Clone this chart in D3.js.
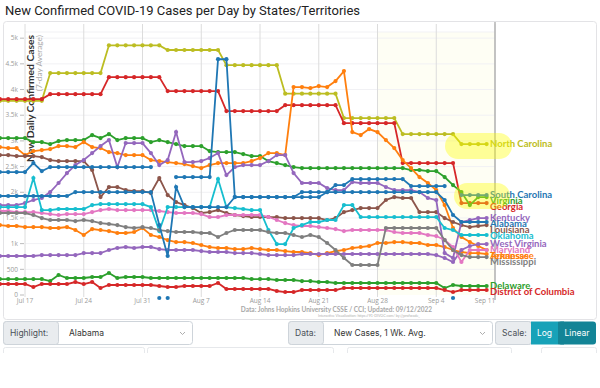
<!DOCTYPE html>
<meta charset="utf-8">
<head>
<style>
body { margin: 0; background: #fff; }
svg { font-family: Roboto, "Open Sans", sans-serif; }
.grid line { stroke: #dcdcdc; }
.hgrid line { stroke: #f1f1f4; }
.tick-y text, .tick-x text { fill: #9a9a9a; font: 6.5px "Open Sans", sans-serif; }
.series path { fill: none; stroke-width: 1.8; }
.label { font: bold 9.5px Lato, sans-serif; }
.ctl text { font: 8.5px Inter, sans-serif; fill: #495057; }
</style>
</head>
<body>
<svg width="600" height="388"></svg>
<script src="https://d3js.org/d3.v7.min.js"></script>
<script>

// one value per day, Jul 14 .. Sep 10 2022 (59 days); null = no report that day
var northCarolina = [3780,3780,3780,3780,3780,3780, 4320,4320,4320,4320,4320,4320,4320, 4860,4860,4860,4860,4860,4860,4860, 4770,4770,4770,4770,4770,4770,4770, 4475,4475,4475,4475,4475,4475,4475, 3920,3920,3920,3920,3920,3920,3920, 3444,3444,3444,3444,3444,3444,3444, 3132,3132,3132,3132,3132,3132,3132, 2938,2938,2938,2938];
var georgia = [3813,3813,3813,3813,3813,3813, 3910,3910,3910,3910,3910,3910,3910, 4241,4241,4241,4241,4241,4241,4241, 3969,3969,3969,3969,3969,3969,3969, 3580,3580,3580,3580,3580,3580,3580, 3696,3696,3696,3696,3696,3696,3696, 3346,3346,3346,3346,3346,3346,3346, 2568,2568,2568,2568,2568,2568,2568, 1790,1790,1790,1790];
var virginia = [3055,3055,3055,3055,2977,2977,2938,2997,3016,3016,3016,3114,3055,3133,3016,3055,3055,3055,2977,3016,2977,2938,2900,2900,2900,2802,2783,2783,2783,2744,2705,2705,2608,2569,2530,2491,2471,2471,2471,2471,2471,2471,2471,2471,2471,2471,2471,2471,2471,2433,2433,2413,2413,2296,2140,2004,1751,1907,1907];
var tennessee = [2880,2861,2861,2724,2802,2822,2841,2900,2900,2880,2977,2880,2861,2783,2763,2724,2724,2724,2627,2608,2588,2569,2549,2510,2471,2530,2569,2569,2569,2569,2608,2666,2763,2763,2724,4048,4048,4028,4067,4048,4164,4359,3172,3114,3230,3172,3016,2861,2627,2471,2296,2180,2043,1751,1304,1129,1031,954,876];
var arkansas = [1362,1343,1343,1323,1323,1323,1304,1304,1323,1265,1168,1284,1265,1245,1207,1207,1226,1304,1168,1129,1070,1031,1031,1012,973,934,915,915,895,895,915,895,876,876,856,837,837,817,778,817,856,876,915,934,954,1012,1012,1031,1031,1012,1012,973,973,934,876,837,817,817,798];
var louisiana = [2724,2724,2705,2705,2705,2685,2627,2608,2608,2608,2608,2433,1907,2102,2102,2043,2024,2024,1985,2277,1946,1810,1751,1693,1596,1615,1654,1596,1557,1537,1518,1518,1518,1518,1498,1498,1498,1498,1498,1460,1498,1615,1654,1693,1693,1693,1849,1907,1888,1888,1615,1615,1615,1498,1421,1362,1323,1343,1362];
var kentucky = [1751,1751,1751,1790,1849,1888,2004,2180,2374,2530,2627,2763,2900,3016,2491,2958,2958,2958,2763,2530,2627,3172,2588,2588,2608,2666,2763,2335,2491,2530,2530,2530,2608,2724,2724,2374,2180,2180,2180,2082,2043,2043,2199,2180,2180,2180,2102,2043,2043,2043,2004,1888,1849,817,720,1421,1460,1498,1498];
var westVirginia = [759,759,759,759,759,778,778,778,778,778,817,817,817,876,915,934,915,934,934,895,876,876,876,876,856,837,837,837,817,817,817,798,778,778,778,778,798,798,798,798,798,798,798,798,798,798,798,798,798,798,798,798,778,720,642,876,954,992,992];
var maryland = [1635,1635,1615,1615,1615,1596,1576,1557,1576,1576,1576,1615,1654,1674,1654,1654,1654,1654,1654,1635,1615,1596,1596,1596,1576,1518,1518,1557,1557,1557,1557,1557,1518,1460,1401,1362,1343,1343,1323,1304,1284,1245,1265,1265,1265,1265,1265,1226,1207,1207,1207,1168,1148,1070,934,642,876,876,876];
var oklahoma = [1712,1712,1712,1712,2277,1654,1654,1674,1674,1674,1674,1751,1771,1771,1771,1771,1771,1771,1712,1245,1712,1712,1712,1712,1712,1712,2257,1712,1693,1674,1654,1654,1265,992,992,1304,1362,1421,1421,1460,1460,1751,1751,1518,1518,1518,1518,1518,1518,1518,1518,1518,1518,1304,1265,1168,1168,1168,1168];
var mississippi = [1596,1596,1596,1596,1557,1498,1460,1460,1460,1440,1460,1440,1401,1382,1362,1323,1304,1323,1304,1265,1245,1226,1226,1226,1207,1207,1129,1207,1265,1265,1265,1265,1226,1207,1207,1168,1129,1168,1129,1012,876,720,584,584,584,584,1304,1304,1304,1304,1304,1304,1304,1070,876,778,739,739,739];
var southCarolina = [2394,2394,2394,2394,2569,2413,2491,2491,2491,2491,2491,2491,2491,2491,2491,2491,2491,2491,2491,null,null,2296,2296,2296,2296,2296,4590,4590,1907,1907,1907,1907,1907,1907,1907,1907,2004,2004,2004,2004,2140,2140,2257,2257,2257,2257,2257,2257,2257,2121,2121,2121,2121,2121,null,1946,1946,1946,1946];
var alabama = [1927,1927,1927,1927,1927,1927,1927,1927,1927,2004,2004,2004,2004,2004,2004,2004,2004,2004,2004,1362,759,2102,1712,1712,1712,1712,1712,1712,1907,1907,1907,1907,1907,1907,1907,1907,1907,1907,1907,2004,2004,2004,2004,2004,2004,2004,2004,2004,2004,2004,2004,2004,2004,1849,1557,1421,1421,1421,1421];
var delaware = [311,311,311,311,311,311,272,389,331,331,331,350,350,428,331,350,350,350,331,331,331,331,331,331,331,331,331,331,331,331,311,311,311,292,292,292,272,272,253,253,234,234,234,234,234,234,234,234,234,234,234,234,234,136,195,175,175,175,175];
var districtOfColumbia = [214,214,214,214,156,214,214,214,214,253,214,253,136,195,195,195,195,195,195,175,156,156,175,175,175,175,234,117,117,117,117,117,117,78,58,58,97,97,97,97,97,136,136,136,136,136,136,136,136,136,136,136,136,97,58,97,97,97,97];

var stateNames = ["North Carolina","Georgia","Virginia","Tennessee","Arkansas","Louisiana","Kentucky","West Virginia","Maryland","Oklahoma","Mississippi","South Carolina","Alabama","Delaware","District of Columbia"];
var stateValues = [northCarolina, georgia, virginia, tennessee, arkansas, louisiana, kentucky, westVirginia, maryland, oklahoma, mississippi, southCarolina, alabama, delaware, districtOfColumbia];
var stateColors = ["#bcbd22","#d62728","#2ca02c","#ff7f0e","#ff7f0e","#8c564b","#9467bd","#9467bd","#e377c2","#17becf","#7f7f7f","#1f77b4","#1f77b4","#2ca02c","#d62728"];

var yTicks = [0,500,1000,1500,2000,2500,3000,3500,4000,4500,5000];
var xTickLabels = ["Jul 17","Jul 24","Jul 31","Aug 7","Aug 14","Aug 21","Aug 28","Sep 4","Sep 11"];

var svg = d3.select("svg");
var firstDay = new Date(Date.UTC(2022, 6, 14));

var x = d3.scaleUtc()
    .domain([new Date(Date.UTC(2022, 6, 17)), new Date(Date.UTC(2022, 8, 11))])
    .range([25, 495]);
var y = d3.scaleLinear().domain([0, 5120]).range([295, 32]);

svg.append("text").attr("x", 5).attr("y", 15)
    .style("font", "13px Roboto, sans-serif").style("fill", "#222")
    .text("New Confirmed COVID-19 Cases per Day by States/Territories");

svg.append("rect").attr("x", 3.5).attr("y", 21.5).attr("width", 593).attr("height", 298)
    .attr("rx", 3).style("fill", "#fff").style("stroke", "#e3e3e6");

// late-period shading
svg.append("rect").attr("x", x(new Date(Date.UTC(2022, 7, 28)))).attr("y", 32)
    .attr("width", x(new Date(Date.UTC(2022, 8, 11))) - x(new Date(Date.UTC(2022, 7, 28))))
    .attr("height", 263).style("fill", "#fefef4");

var hg = svg.append("g").attr("class", "hgrid");
hg.selectAll("line").data(yTicks.slice(1)).enter().append("line")
    .attr("x1", 25).attr("x2", 495).attr("y1", d => y(d)).attr("y2", d => y(d));
hg.append("line").attr("x1", 25).attr("x2", 495).attr("y1", 32).attr("y2", 32);

var weeks = d3.utcDay.range(new Date(Date.UTC(2022, 6, 17)), new Date(Date.UTC(2022, 8, 12)), 7);
var vg = svg.append("g").attr("class", "grid");
vg.selectAll("line").data(weeks).enter().append("line")
    .attr("x1", d => x(d)).attr("x2", d => x(d)).attr("y1", 24).attr("y2", 297);

svg.append("line").attr("x1", 495).attr("x2", 495).attr("y1", 22).attr("y2", 300)
    .style("stroke", "#b5b5b5").style("stroke-width", 1.5);

var ya = svg.append("g").attr("class", "tick-y");
ya.selectAll("text").data(yTicks).enter().append("text")
    .attr("x", 18).attr("y", d => y(d) + 2.2).attr("text-anchor", "end")
    .text(d => d == 0 ? "0" : d < 1000 ? d : (d / 1000) + "k");
ya.selectAll("line").data(yTicks).enter().append("line")
    .attr("x1", 20).attr("x2", 24).attr("y1", d => y(d)).attr("y2", d => y(d))
    .style("stroke", "#bbb");

var xa = svg.append("g").attr("class", "tick-x");
xa.selectAll("text").data(weeks).enter().append("text")
    .attr("x", (d, i) => i == weeks.length - 1 ? x(d) - 10 : x(d))
    .attr("y", 303).attr("text-anchor", "middle")
    .text((d, i) => xTickLabels[i]);

svg.append("text").attr("transform", "translate(34,35) rotate(-90)")
    .attr("text-anchor", "end")
    .style("font", "bold 10.3px Lato, sans-serif").style("fill", "#333")
    .text("New Daily Confirmed Cases");
svg.append("text").attr("transform", "translate(41.5,35) rotate(-90)")
    .attr("text-anchor", "end")
    .style("font", "8.3px Lato, sans-serif").style("fill", "#aaa")
    .text("(7-day Average)");

var series = stateNames.map(function(name, k) {
  return {
    name: name, color: stateColors[k],
    points: stateValues[k].map((v, i) => ({ date: d3.utcDay.offset(firstDay, i), v: v }))
  };
});

var line = d3.line().defined(d => d.v != null).x(d => x(d.date)).y(d => y(d.v));

var sg = svg.selectAll(".series").data(series).enter().append("g").attr("class", "series");
sg.append("path").attr("d", d => line(d.points)).style("stroke", d => d.color);
sg.selectAll("circle").data(d => d.points.map(p => Object.assign({ color: d.color }, p)))
  .enter().append("circle")
    .attr("cx", d => x(d.date))
    .attr("cy", d => d.v == null ? y(0) + 3 : y(d.v))
    .attr("r", 2.1)
    .style("fill", d => d.color);

// end labels, pushed apart; Tennessee's lands on Arkansas' slot like in the original
var ends = series.map(s => ({ s: s, y: y(s.points[s.points.length - 1].v || 0) }))
    .filter(e => e.s.name != "Tennessee")
    .sort((a, b) => a.y - b.y);
for (var i = 1; i < ends.length; i++) {
  if (ends[i].y < ends[i - 1].y + 6) ends[i].y = ends[i - 1].y + 6;
}
var arkansasEnd = ends.find(e => e.s.name == "Arkansas");
ends.push({ s: series.find(s => s.name == "Tennessee"), y: arkansasEnd.y });

svg.selectAll(".label").data(ends).enter().append("text")
    .attr("class", "label")
    .attr("x", 490).attr("y", d => d.y + 3.3)
    .style("fill", d => d.s.color)
    .text(d => d.s.name);

// highlighter marks
var glow = [[458, 146, 499, 146], [467, 196, 497, 196]];
svg.selectAll(".glow").data(glow).enter().append("line")
    .attr("x1", d => d[0]).attr("y1", d => d[1]).attr("x2", d => d[2]).attr("y2", d => d[3])
    .style("stroke", "rgba(255,255,0,0.38)").style("stroke-width", 26).style("stroke-linecap", "round");

svg.append("text").attr("x", 432).attr("y", 312).attr("text-anchor", "end")
    .style("font", "bold 6.5px Lato, sans-serif").style("fill", "#a8a8a8")
    .text("Data: Johns Hopkins University CSSE / CCI; Updated: 09/12/2022");
svg.append("text").attr("x", 420).attr("y", 317).attr("text-anchor", "end")
    .style("font", "3.6px Lato, sans-serif").style("fill", "#b0b0b0")
    .text("Interactive Visualization: https://91-DIVOC.com/ by @profwade_");

// controls row
var ctl = svg.append("g").attr("class", "ctl");
function group(x0, labelW, fieldW, label, value) {
  ctl.append("rect").attr("x", x0 + 0.5).attr("y", 321.5).attr("width", labelW + fieldW).attr("height", 23)
      .attr("rx", 3).style("fill", "#fff").style("stroke", "#ced4da");
  ctl.append("rect").attr("x", x0 + 0.5).attr("y", 321.5).attr("width", labelW).attr("height", 23)
      .attr("rx", 3).style("fill", "#e9ecef").style("stroke", "#ced4da");
  ctl.append("text").attr("x", x0 + 7).attr("y", 336).text(label);
  if (value != null) {
    ctl.append("text").attr("x", x0 + labelW + 11).attr("y", 336).style("fill", "#333").text(value);
    ctl.append("path").attr("d", "M" + (x0 + labelW + fieldW - 12) + ",332l2.5,2.5l2.5,-2.5")
        .style("fill", "none").style("stroke", "#999").style("stroke-width", 0.8);
  }
}
group(3, 55, 134, "Highlight:", "Alabama");
group(288, 35, 169, "Data:", "New Cases, 1 Wk. Avg.");
group(495, 36, 0, "Scale:", null);
ctl.append("rect").attr("x", 531).attr("y", 321.5).attr("width", 27).attr("height", 23).style("fill", "#17a2b8");
ctl.append("rect").attr("x", 558).attr("y", 321.5).attr("width", 38).attr("height", 23).attr("rx", 3).style("fill", "#138496");
ctl.append("rect").attr("x", 558).attr("y", 321.5).attr("width", 6).attr("height", 23).style("fill", "#138496");
ctl.append("text").attr("x", 544.5).attr("y", 336).attr("text-anchor", "middle").style("fill", "#fff").text("Log");
ctl.append("text").attr("x", 577).attr("y", 336).attr("text-anchor", "middle").style("fill", "#fff").text("Linear");

// only the top edges of the next control row peek in
[[3, 141], [147, 186], [347, 164], [541, 55]].forEach(function(b) {
  ctl.append("path")
      .attr("d", "M" + (b[0] + 0.5) + ",353v-3.5q0,-2 2,-2h" + (b[1] - 4) + "q2,0 2,2v3.5")
      .style("fill", "none").style("stroke", "#e6e8eb");
});

</script>
</body>
</html>
